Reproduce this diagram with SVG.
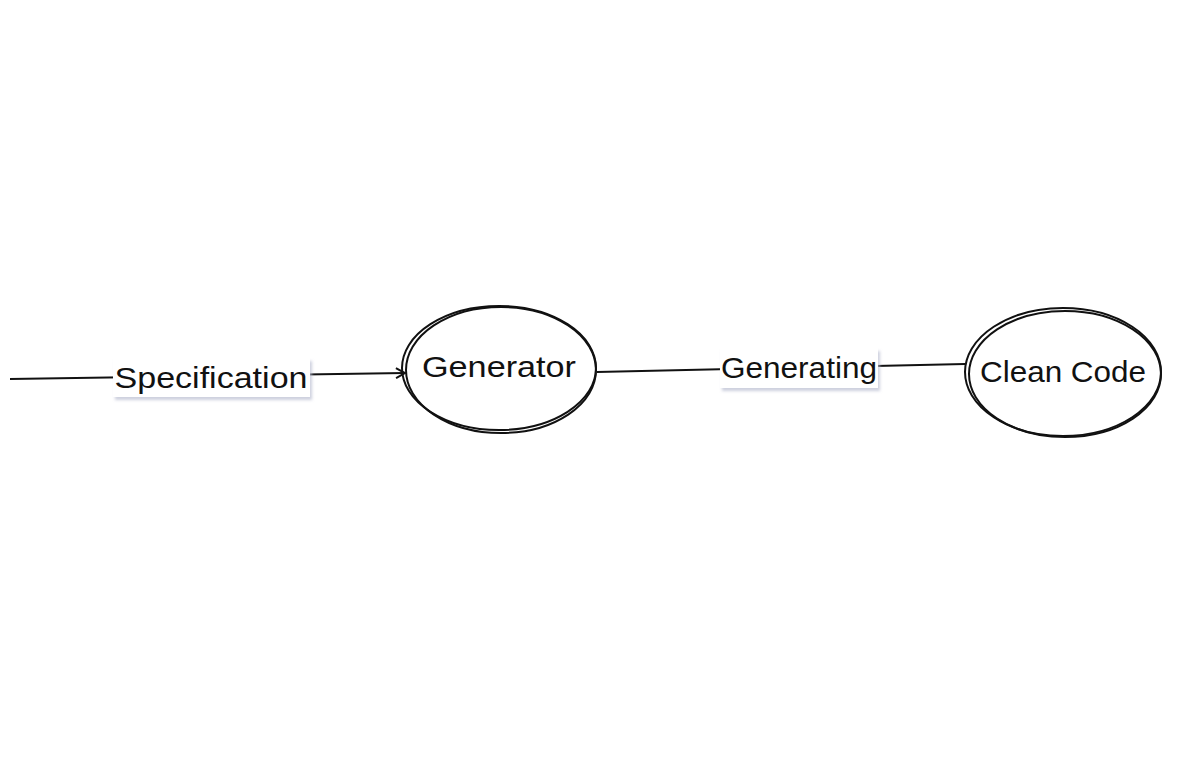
<svg xmlns="http://www.w3.org/2000/svg" width="1200" height="768" viewBox="0 0 1200 768">
<defs>
<style>
.n{fill:none;stroke:#111;stroke-width:2}
.t{font-family:"Liberation Sans",sans-serif;font-size:29px;fill:#111;text-anchor:middle;dominant-baseline:central}
.lb{fill:#fff;filter:url(#sh)}
.e{stroke:#111;stroke-width:2;fill:none}
</style>
<filter id="sh" x="-10%" y="-20%" width="130%" height="160%"><feDropShadow dx="2" dy="3" stdDeviation="1.5" flood-color="#b8bcd0" flood-opacity="0.7"/></filter>
<marker id="ar" markerWidth="12" markerHeight="12" refX="10" refY="6" orient="auto" markerUnits="userSpaceOnUse"><path d="M1,1 L10,6 L1,11" fill="none" stroke="#111" stroke-width="2"/></marker>
</defs>
<rect width="1200" height="768" fill="#fff"/>
<g id="connectors">
<path class="e" d="M10,379 L405,373" marker-end="url(#ar)"/>
<path class="e" d="M597,372 L965,364"/>
</g>
<g id="label-spec"><rect class="lb" x="113" y="358" width="197" height="39"/><text class="t" x="211" y="378" textLength="193" lengthAdjust="spacingAndGlyphs">Specification</text></g>
<g id="label-gen"><rect class="lb" x="720" y="348" width="158" height="40"/><text class="t" x="799" y="368" textLength="156" lengthAdjust="spacingAndGlyphs">Generating</text></g>
<g id="generator"><ellipse class="n" cx="499" cy="368" rx="97" ry="62"/><ellipse class="n" cx="501" cy="370" rx="95" ry="63" stroke-width="1.3"/><text class="t" x="499" y="367" textLength="154" lengthAdjust="spacingAndGlyphs">Generator</text></g>
<g id="cleancode"><ellipse class="n" cx="1063" cy="372" rx="98" ry="64"/><ellipse class="n" cx="1065" cy="374" rx="96" ry="63" stroke-width="1.3"/><text class="t" x="1063" y="372" textLength="166" lengthAdjust="spacingAndGlyphs">Clean Code</text></g>
</svg>
